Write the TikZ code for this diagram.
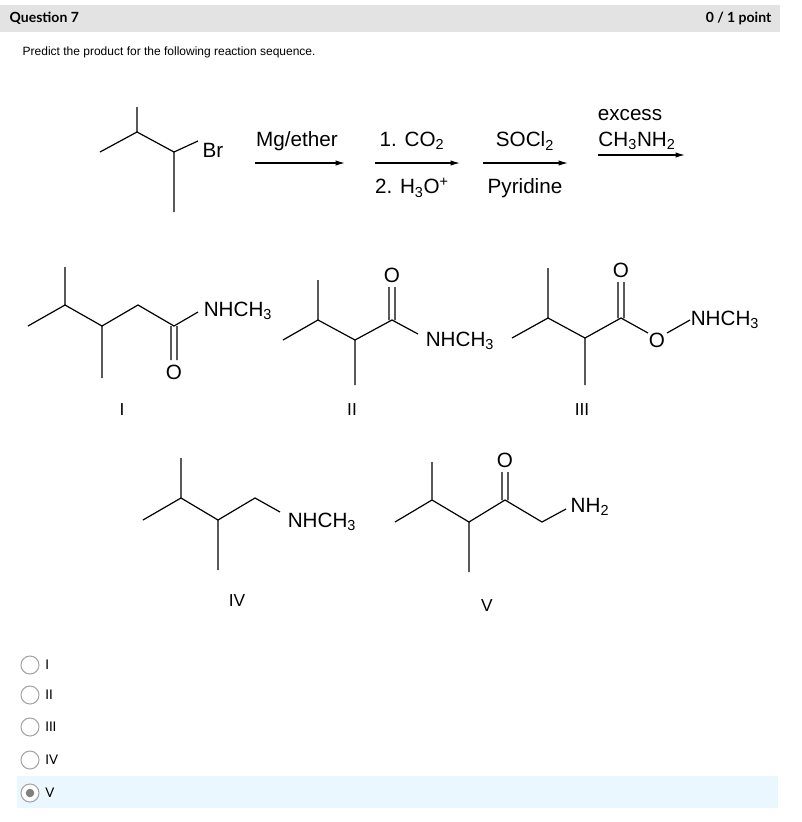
\documentclass[tikz,border=0pt]{standalone}
\usepackage{fontspec}
\setmainfont{Liberation Sans}
\newfontfamily\lato{Lato}
\usetikzlibrary{arrows.meta}
\newcommand{\sbx}[1]{\textsubscript{#1}}
\begin{document}
\begin{tikzpicture}[x=0.75pt,y=-0.75pt,
  bond/.style={line width=0.9pt},
  rxn/.style={line width=0.9pt,-{Latex[length=7pt,width=4pt]}},
  chem/.style={font=\fontsize{15.5}{17}\selectfont,inner sep=0pt},
  lab/.style={font=\fontsize{13}{14}\selectfont,inner sep=0pt},
  opt/.style={draw=gray!70,line width=0.8pt,circle,minimum size=13.5pt,inner sep=0pt},
  optl/.style={font=\lato\fontsize{10}{12}\selectfont,anchor=west,inner sep=0pt}]
\useasboundingbox (0,0) rectangle (802,822);
\fill[gray!22] (0,5) rectangle (780,32);
\node[anchor=west,font=\lato\bfseries\fontsize{10.5}{12}\selectfont] (q) at (5,18) {Question 7};
\node[anchor=east,font=\lato\bfseries\fontsize{10.5}{12}\selectfont] (pt) at (776,18) {0 / 1 point};
\node[anchor=west,font=\fontsize{9}{11}\selectfont] (pr) at (18,52) {Predict the product for the following reaction sequence.};
% starting material
\draw[bond] (137,107)--(137,132) (100,152)--(137,132)--(174,152)--(174,212) (174,152)--(198,141);
\node[chem] (br) at (213,150) {Br};
% arrows
\node[chem] (mg) at (297,141) {Mg/ether};
\coordinate (a1s) at (255,163); \coordinate (a1e) at (345,163);
\draw[rxn] (a1s)--(a1e);
\node[chem] (co2) at (412,141) {1. CO\sbx{2}};
\node[chem] (h3o) at (412,188) {2. H\sbx{3}O\textsuperscript{+}};
\coordinate (a2s) at (375,163); \coordinate (a2e) at (460,163);
\draw[rxn] (a2s)--(a2e);
\node[chem] (socl) at (525,141) {SOCl\sbx{2}};
\node[chem] (pyr) at (525,188) {Pyridine};
\coordinate (a3s) at (483,163); \coordinate (a3e) at (568,163);
\draw[rxn] (a3s)--(a3e);
\node[chem] (exc) at (630,115) {excess};
\node[chem] (me) at (637,141) {CH\sbx{3}NH\sbx{2}};
\coordinate (a4s) at (598,155); \coordinate (a4e) at (685,155);
\draw[rxn] (a4s)--(a4e);
% I
\draw[bond] (65,267)--(65,305) (28,326)--(65,305)--(102,326)--(102,378) (102,326)--(138,305)--(174,326)--(198,312)
  (171,326)--(171,360) (177,326)--(177,360);
\node[chem] (o1) at (174,372) {O};
\node[chem] (n1) at (238,311) {NHCH\sbx{3}};
\node[lab] (l1) at (122,410) {I};
% II
\draw[bond] (318,280)--(318,320) (283,340)--(318,320)--(355,340)--(355,385) (355,340)--(392,320)--(418,334)
  (389,320)--(389,287) (395,320)--(395,287);
\node[chem] (o2) at (392,275) {O};
\node[chem] (n2) at (460,341) {NHCH\sbx{3}};
\node[lab] (l2) at (352,410) {II};
% III
\draw[bond] (548,268)--(548,318) (512,338)--(548,318)--(585,338)--(585,385) (585,338)--(621,318)--(648,333)
  (618,318)--(618,282) (624,318)--(624,282) (667,333)--(690,320);
\node[chem] (o3) at (621,270) {O};
\node[chem] (oo3) at (657,340) {O};
\node[chem] (n3) at (725,320) {NHCH\sbx{3}};
\node[lab] (l3) at (582,410) {III};
% IV
\draw[bond] (181,458)--(181,498) (143,520)--(181,498)--(218,520)--(218,570) (218,520)--(255,498)--(280,512);
\node[chem] (n4) at (322,522) {NHCH\sbx{3}};
\node[lab] (l4) at (237,601) {IV};
% V
\draw[bond] (432,462)--(432,500) (395,522)--(432,500)--(469,522)--(469,572) (469,522)--(505,500)--(542,522)--(566,509)
  (502,500)--(502,472) (508,500)--(508,472);
\node[chem] (o5) at (505,460) {O};
\node[chem] (n5) at (590,507) {NH\sbx{2}};
\node[lab] (l5) at (487,606) {V};
% options
\fill[blue!40!cyan!8] (17,776) rectangle (778,808);
\foreach \y/\t/\n in {665/I/a,695/II/b,727/III/c,760/IV/d,793/V/e}{
  \node[opt,fill=white] (c\n) at (30,\y) {};
  \node[optl] (t\n) at (45,\y) {\t};
}
\fill[gray] (ce) circle (3.2pt);
\end{tikzpicture}
\end{document}
